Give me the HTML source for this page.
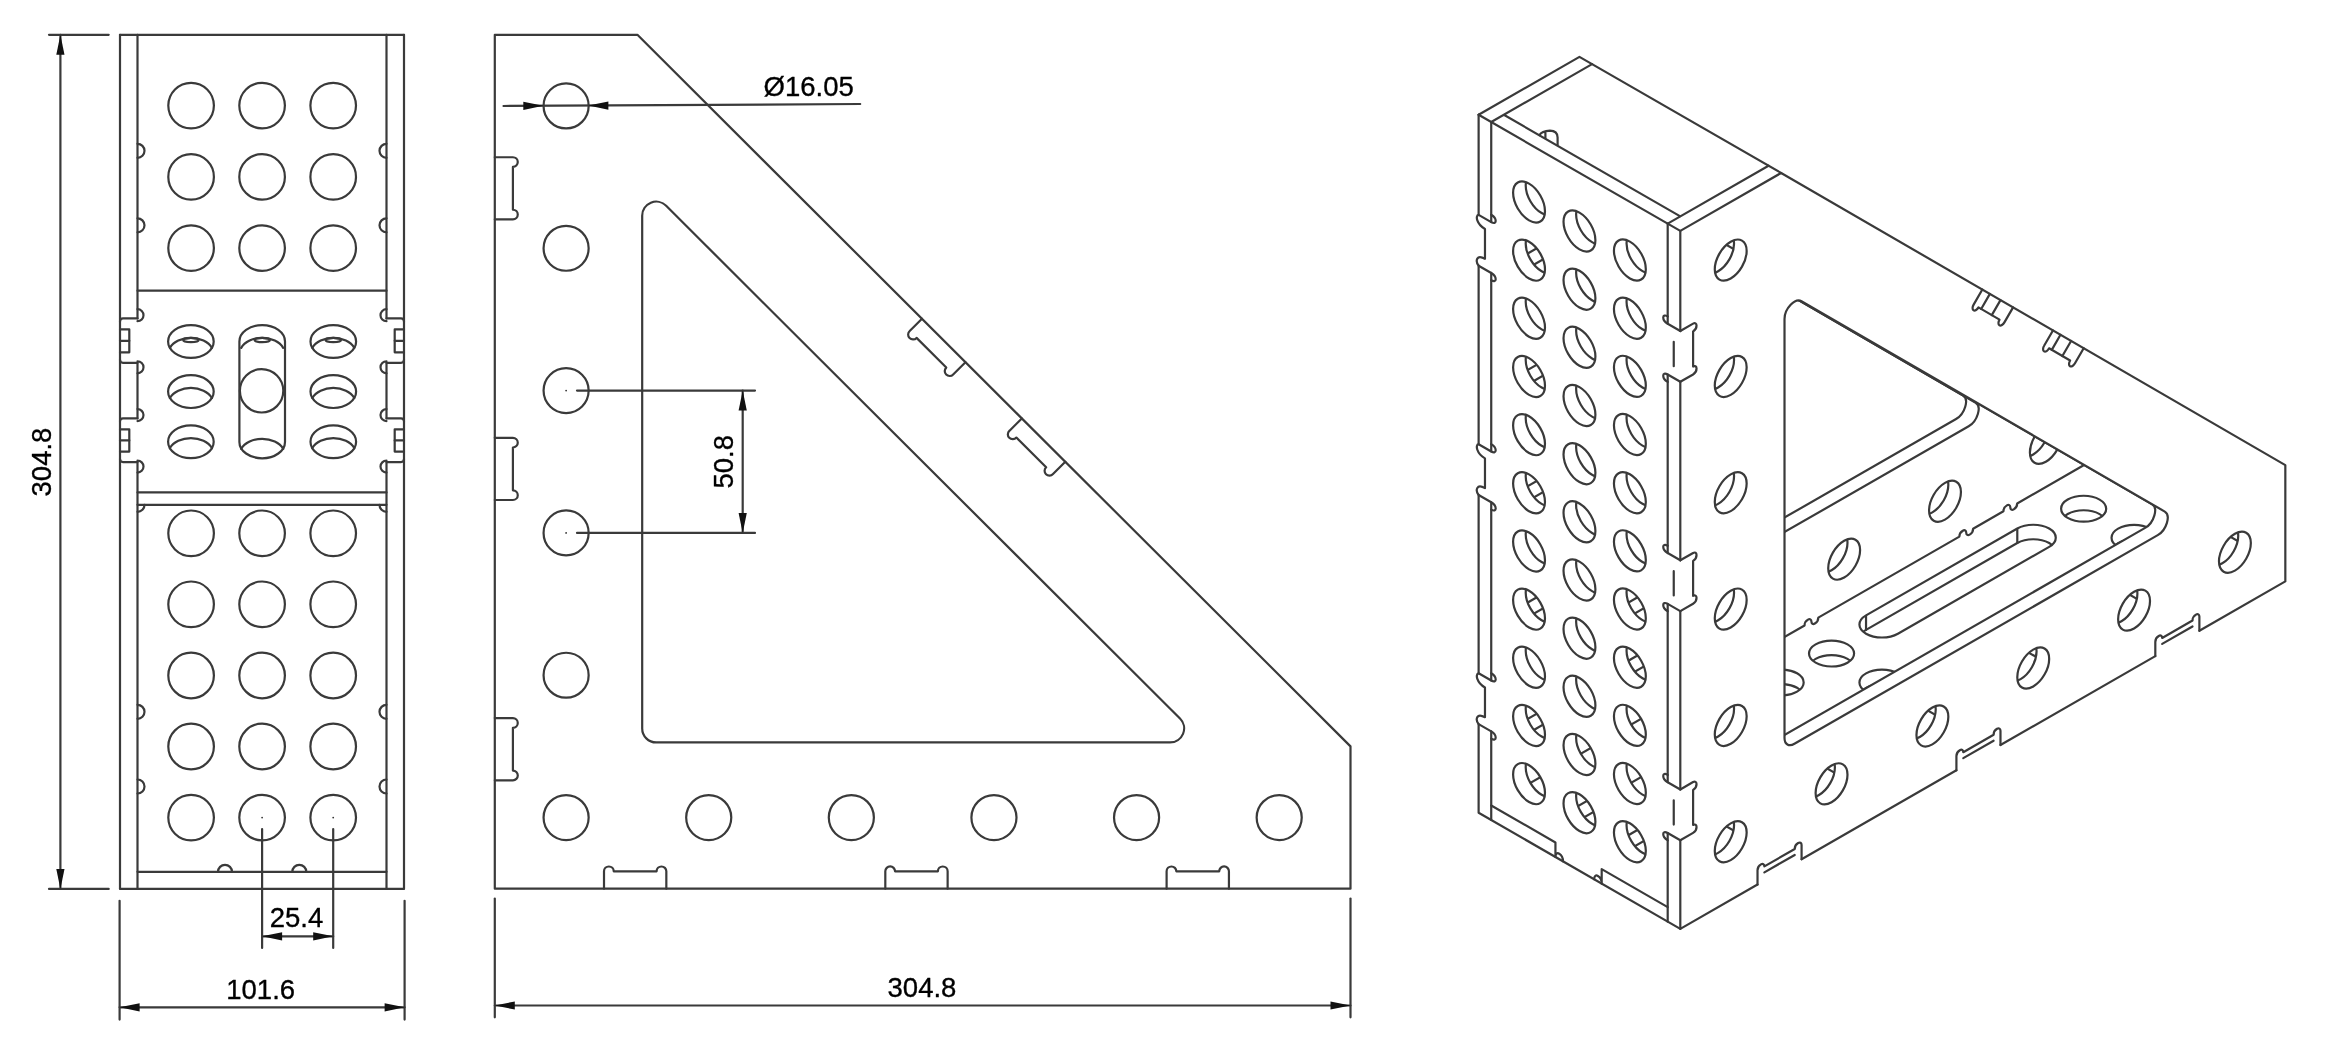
<!DOCTYPE html>
<html><head><meta charset="utf-8"><style>
html,body{margin:0;padding:0;background:#fff;width:2328px;height:1053px;overflow:hidden}
svg{display:block;will-change:transform}
svg text{font-family:"Liberation Sans",sans-serif;fill:#000;stroke:#000;stroke-width:0.35px}
.ns path,.ns circle,.ns ellipse,.ns line,.ns rect{vector-effect:non-scaling-stroke}
.ar{fill:#111;stroke:none}
.dot{fill:#333;stroke:none}
</style></head><body>
<svg width="2328" height="1053" viewBox="0 0 2328 1053"><defs><clipPath id="hc"><circle r="8.03"/></clipPath><clipPath id="hcb"><circle cx="-6.35" cy="-6.35" r="8.03"/></clipPath><clipPath id="cwin"><path transform="matrix(1.985,-1.14,0.0,2.29,1680.3,230.9)" d="M52.5 64.57 L52.5 247.6 A5 5 0 0 0 57.5 252.6 L240.53 252.6 A5 5 0 0 0 244.07 244.07 L61.04 61.04 A5 5 0 0 0 52.5 64.57 Z"/></clipPath><clipPath id="cback"><rect x="0" y="252.6" width="304.8" height="45.849999999999994"/></clipPath><clipPath id="cfloor"><rect x="0" y="52.3" width="304.8" height="42.95"/></clipPath><clipPath id="cslot"><path d="M177.8 68.17 L254 68.17 A8.03 8.03 0 0 1 254 84.23 L177.8 84.23 A8.03 8.03 0 0 1 177.8 68.17 Z"/></clipPath></defs><g><g fill="none" stroke="#3a3a3a" stroke-width="2.2" stroke-linecap="round" stroke-linejoin="round"><g id="leftview">
<line x1="120" y1="34.8" x2="404" y2="34.8"/>
<line x1="120" y1="888.8" x2="404" y2="888.8"/>
<line x1="120" y1="34.8" x2="120" y2="888.8"/>
<line x1="404" y1="34.8" x2="404" y2="888.8"/>
<line x1="137.5" y1="34.8" x2="137.5" y2="318.4"/>
<line x1="386.5" y1="34.8" x2="386.5" y2="318.4"/>
<line x1="137.5" y1="362.8" x2="137.5" y2="418.3"/>
<line x1="386.5" y1="362.8" x2="386.5" y2="418.3"/>
<line x1="137.5" y1="462.1" x2="137.5" y2="888.8"/>
<line x1="386.5" y1="462.1" x2="386.5" y2="888.8"/>
<path d="M137.5 318.4 L123 318.4 Q120 318.4 120 321.4"/>
<path d="M137.5 362.8 L123 362.8 Q120 362.8 120 359.8"/>
<path d="M120 329.4 L129.3 329.4 L129.3 352.3 L120 352.3"/>
<line x1="120" y1="340.85" x2="129.3" y2="340.85"/>
<path d="M137.5 309.2 A6 6 0 0 1 137.5 321.2"/>
<path d="M137.5 361.3 A6 6 0 0 1 137.5 373.3"/>
<path d="M386.5 318.4 L401 318.4 Q404 318.4 404 321.4"/>
<path d="M386.5 362.8 L401 362.8 Q404 362.8 404 359.8"/>
<path d="M404 329.4 L394.7 329.4 L394.7 352.3 L404 352.3"/>
<line x1="404" y1="340.85" x2="394.7" y2="340.85"/>
<path d="M386.5 309.2 A6 6 0 0 0 386.5 321.2"/>
<path d="M386.5 361.3 A6 6 0 0 0 386.5 373.3"/>
<path d="M137.5 418.3 L123 418.3 Q120 418.3 120 421.3"/>
<path d="M137.5 462.1 L123 462.1 Q120 462.1 120 459.1"/>
<path d="M120 429.3 L129.3 429.3 L129.3 451.6 L120 451.6"/>
<line x1="120" y1="440.45" x2="129.3" y2="440.45"/>
<path d="M137.5 409.1 A6 6 0 0 1 137.5 421.1"/>
<path d="M137.5 460.6 A6 6 0 0 1 137.5 472.6"/>
<path d="M386.5 418.3 L401 418.3 Q404 418.3 404 421.3"/>
<path d="M386.5 462.1 L401 462.1 Q404 462.1 404 459.1"/>
<path d="M404 429.3 L394.7 429.3 L394.7 451.6 L404 451.6"/>
<line x1="404" y1="440.45" x2="394.7" y2="440.45"/>
<path d="M386.5 409.1 A6 6 0 0 0 386.5 421.1"/>
<path d="M386.5 460.6 A6 6 0 0 0 386.5 472.6"/>
<line x1="137.5" y1="290.7" x2="386.5" y2="290.7"/>
<line x1="137.5" y1="492.4" x2="386.5" y2="492.4"/>
<line x1="137.5" y1="504.8" x2="386.5" y2="504.8"/>
<line x1="137.5" y1="871.8" x2="386.5" y2="871.8"/>
<path d="M137.5 143.8 A7 7 0 0 1 137.5 157.8"/>
<path d="M386.5 143.8 A7 7 0 0 0 386.5 157.8"/>
<path d="M137.5 218.3 A7 7 0 0 1 137.5 232.3"/>
<path d="M386.5 218.3 A7 7 0 0 0 386.5 232.3"/>
<path d="M137.5 704.8 A7 7 0 0 1 137.5 718.8"/>
<path d="M386.5 704.8 A7 7 0 0 0 386.5 718.8"/>
<path d="M137.5 779.5 A7 7 0 0 1 137.5 793.5"/>
<path d="M386.5 779.5 A7 7 0 0 0 386.5 793.5"/>
<path d="M137.5 511.8 A7 7 0 0 0 144.5 504.8"/>
<path d="M386.5 511.8 A7 7 0 0 1 379.5 504.8"/>
<path d="M218 871.8 A7 7 0 0 1 232 871.8"/>
<path d="M292.3 871.8 A7 7 0 0 1 306.3 871.8"/>
<circle cx="191.1" cy="105.6" r="22.8"/>
<circle cx="191.1" cy="176.9" r="22.8"/>
<circle cx="191.1" cy="248.1" r="22.8"/>
<circle cx="191.1" cy="533.3" r="22.8"/>
<circle cx="191.1" cy="604.3" r="22.8"/>
<circle cx="191.1" cy="675.5" r="22.8"/>
<circle cx="191.1" cy="746.5" r="22.8"/>
<circle cx="191.1" cy="817.6" r="22.8"/>
<circle cx="262.1" cy="105.6" r="22.8"/>
<circle cx="262.1" cy="176.9" r="22.8"/>
<circle cx="262.1" cy="248.1" r="22.8"/>
<circle cx="262.1" cy="533.3" r="22.8"/>
<circle cx="262.1" cy="604.3" r="22.8"/>
<circle cx="262.1" cy="675.5" r="22.8"/>
<circle cx="262.1" cy="746.5" r="22.8"/>
<circle cx="262.1" cy="817.6" r="22.8"/>
<circle cx="333.2" cy="105.6" r="22.8"/>
<circle cx="333.2" cy="176.9" r="22.8"/>
<circle cx="333.2" cy="248.1" r="22.8"/>
<circle cx="333.2" cy="533.3" r="22.8"/>
<circle cx="333.2" cy="604.3" r="22.8"/>
<circle cx="333.2" cy="675.5" r="22.8"/>
<circle cx="333.2" cy="746.5" r="22.8"/>
<circle cx="333.2" cy="817.6" r="22.8"/>
<ellipse cx="190.9" cy="341.5" rx="22.8" ry="16.4"/>
<path d="M169.9 347.85 A22.8 16.4 0 0 1 211.9 347.85"/>
<ellipse cx="190.9" cy="391.6" rx="22.8" ry="16.4"/>
<path d="M169.9 397.95 A22.8 16.4 0 0 1 211.9 397.95"/>
<ellipse cx="190.9" cy="441.7" rx="22.8" ry="16.4"/>
<path d="M169.9 448.05 A22.8 16.4 0 0 1 211.9 448.05"/>
<ellipse cx="190.9" cy="340" rx="7.7" ry="2.2"/>
<ellipse cx="333.3" cy="341.5" rx="22.8" ry="16.4"/>
<path d="M312.3 347.85 A22.8 16.4 0 0 1 354.3 347.85"/>
<ellipse cx="333.3" cy="391.6" rx="22.8" ry="16.4"/>
<path d="M312.3 397.95 A22.8 16.4 0 0 1 354.3 397.95"/>
<ellipse cx="333.3" cy="441.7" rx="22.8" ry="16.4"/>
<path d="M312.3 448.05 A22.8 16.4 0 0 1 354.3 448.05"/>
<ellipse cx="333.3" cy="340" rx="7.7" ry="2.2"/>
<path d="M239.4 341.5 A22.8 16.4 0 0 1 285 341.5 L285 441.9 A22.8 16.4 0 0 1 239.4 441.9 Z"/>
<path d="M241.2 347.85 A22.8 16.4 0 0 1 283.2 347.85"/>
<path d="M241.2 448.9 A22.8 16.4 0 0 1 283.2 448.9"/>
<ellipse cx="262.2" cy="340" rx="7.7" ry="2.2"/>
<circle cx="261.6" cy="390.8" r="21.7"/>
<circle class="dot" cx="262.1" cy="817.6" r="0.9"/><circle class="dot" cx="333.2" cy="817.6" r="0.9"/>
</g>
<line x1="49" y1="34.8" x2="108.7" y2="34.8"/>
<line x1="49" y1="888.9" x2="108.7" y2="888.9"/>
<line x1="60.4" y1="34.8" x2="60.4" y2="888.9"/>
<path class="ar" d="M60.4 34.8 L64.5 54.8 L56.3 54.8 Z"/>
<path class="ar" d="M60.4 888.9 L56.3 868.9 L64.5 868.9 Z"/>
<text x="50.8" y="462" font-size="27.5" text-anchor="middle" transform="rotate(-90 50.8 462)">304.8</text>
<line x1="119.6" y1="900.8" x2="119.6" y2="1019.6"/>
<line x1="404.6" y1="900.8" x2="404.6" y2="1019.6"/>
<line x1="119.6" y1="1007.3" x2="404.6" y2="1007.3"/>
<path class="ar" d="M119.6 1007.3 L139.6 1003.2 L139.6 1011.4 Z"/>
<path class="ar" d="M404.6 1007.3 L384.6 1011.4 L384.6 1003.2 Z"/>
<text x="260.7" y="999.1" font-size="27.5" text-anchor="middle">101.6</text>
<line x1="262.1" y1="829" x2="262.1" y2="948"/>
<line x1="333.2" y1="829" x2="333.2" y2="948"/>
<line x1="262.1" y1="936.3" x2="333.2" y2="936.3"/>
<path class="ar" d="M262.1 936.3 L282.1 932.2 L282.1 940.4 Z"/>
<path class="ar" d="M333.2 936.3 L313.2 940.4 L313.2 932.2 Z"/>
<text x="296.5" y="926.8" font-size="27.5" text-anchor="middle">25.4</text>
<g transform="matrix(2.8074,0,0,2.8015,494.8,34.8)" class="ns">
<path d="M0 0 L50.8 0 L304.8 254 L304.8 304.8 L0 304.8 Z"/>
<path d="M52.5 64.57 L52.5 247.6 A5 5 0 0 0 57.5 252.6 L240.53 252.6 A5 5 0 0 0 244.07 244.07 L61.04 61.04 A5 5 0 0 0 52.5 64.57 Z"/>
<path d="M0 43.7 L6.45 43.7 A1.73 1.73 0 1 1 6.45 47.16 L6.45 62.44 A1.73 1.73 0 1 1 6.45 65.9 L0 65.9"/>
<path d="M0 143.85 L6.45 143.85 A1.73 1.73 0 1 1 6.45 147.31 L6.45 162.59 A1.73 1.73 0 1 1 6.45 166.05 L0 166.05"/>
<path d="M0 243.9 L6.45 243.9 A1.73 1.73 0 1 1 6.45 247.36 L6.45 262.64 A1.73 1.73 0 1 1 6.45 266.1 L0 266.1"/>
<path d="M38.9 304.8 L38.9 298.6 A1.73 1.73 0 1 1 42.36 298.6 L57.64 298.6 A1.73 1.73 0 1 1 61.1 298.6 L61.1 304.8"/>
<path d="M139.1 304.8 L139.1 298.6 A1.73 1.73 0 1 1 142.56 298.6 L157.84 298.6 A1.73 1.73 0 1 1 161.3 298.6 L161.3 304.8"/>
<path d="M239.3 304.8 L239.3 298.6 A1.73 1.73 0 1 1 242.76 298.6 L258.04 298.6 A1.73 1.73 0 1 1 261.5 298.6 L261.5 304.8"/>
<path d="M152.16 101.36 L147.78 105.75 A1.73 1.73 0 1 0 150.23 108.19 L160.82 118.79 A1.73 1.73 0 1 0 163.27 121.23 L167.65 116.85"/>
<path d="M187.73 136.93 L183.35 141.32 A1.73 1.73 0 1 0 185.79 143.76 L196.39 154.35 A1.73 1.73 0 1 0 198.83 156.8 L203.22 152.42"/>
<circle cx="25.4" cy="25.4" r="8.03"/>
<circle cx="25.4" cy="76.2" r="8.03"/>
<circle cx="25.4" cy="127" r="8.03"/>
<circle cx="25.4" cy="177.8" r="8.03"/>
<circle cx="25.4" cy="228.6" r="8.03"/>
<circle cx="25.4" cy="279.4" r="8.03"/>
<circle cx="76.2" cy="279.4" r="8.03"/>
<circle cx="127" cy="279.4" r="8.03"/>
<circle cx="177.8" cy="279.4" r="8.03"/>
<circle cx="228.6" cy="279.4" r="8.03"/>
<circle cx="279.4" cy="279.4" r="8.03"/>
</g>
<circle class="dot" cx="566.11" cy="390.59" r="0.9"/>
<circle class="dot" cx="566.11" cy="532.91" r="0.9"/>
<line x1="503.5" y1="106" x2="860.2" y2="104"/>
<path class="ar" d="M543.3 105.8 L523.3 109.9 L523.3 101.7 Z"/>
<path class="ar" d="M588.4 105.6 L608.4 101.5 L608.4 109.7 Z"/>
<text x="853.8" y="95.5" font-size="27.5" text-anchor="end">&#216;16.05</text>
<line x1="577" y1="390.59" x2="755" y2="390.59"/>
<line x1="577" y1="532.91" x2="755" y2="532.91"/>
<line x1="742.7" y1="390.59" x2="742.7" y2="532.91"/>
<path class="ar" d="M742.7 390.59 L746.8 410.59 L738.6 410.59 Z"/>
<path class="ar" d="M742.7 532.91 L738.6 512.91 L746.8 512.91 Z"/>
<text x="733.1" y="461.75" font-size="27.5" text-anchor="middle" transform="rotate(-90 733.1 461.75)">50.8</text>
<line x1="494.8" y1="898.5" x2="494.8" y2="1017.3"/>
<line x1="1350.5" y1="898.5" x2="1350.5" y2="1017.3"/>
<line x1="494.8" y1="1005.5" x2="1350.5" y2="1005.5"/>
<path class="ar" d="M494.8 1005.5 L514.8 1001.4 L514.8 1009.6 Z"/>
<path class="ar" d="M1350.5 1005.5 L1330.5 1009.6 L1330.5 1001.4 Z"/>
<text x="922" y="997.2" font-size="27.5" text-anchor="middle">304.8</text>
<g id="iso">
<g transform="matrix(1.985,-1.14,0.0,2.29,1680.3,230.9)" class="ns">
<path d="M0 43.7 L0 0 L50.8 0 L304.8 254 L304.8 304.8 L261.5 304.8 M239.3 304.8 L161.3 304.8 M139.1 304.8 L61.1 304.8 M38.9 304.8 L0 304.8 L0 266.1 M0 243.9 L0 166.05 M0 143.85 L0 65.9"/>
<path d="M42.36 301.2 L57.64 301.2"/>
<path d="M142.56 301.2 L157.84 301.2"/>
<path d="M242.76 301.2 L258.04 301.2"/>
<path d="M52.5 64.57 L52.5 247.6 A5 5 0 0 0 57.5 252.6 L240.53 252.6 A5 5 0 0 0 244.07 244.07 L61.04 61.04 A5 5 0 0 0 52.5 64.57 Z"/>
<path d="M0 43.7 L6.45 43.7 A1.73 1.73 0 1 1 6.45 47.16 L6.45 62.44 A1.73 1.73 0 1 1 6.45 65.9 L0 65.9"/>
<path d="M0 143.85 L6.45 143.85 A1.73 1.73 0 1 1 6.45 147.31 L6.45 162.59 A1.73 1.73 0 1 1 6.45 166.05 L0 166.05"/>
<path d="M0 243.9 L6.45 243.9 A1.73 1.73 0 1 1 6.45 247.36 L6.45 262.64 A1.73 1.73 0 1 1 6.45 266.1 L0 266.1"/>
<path d="M38.9 304.8 L38.9 298.6 A1.73 1.73 0 1 1 42.36 298.6 L57.64 298.6 A1.73 1.73 0 1 1 61.1 298.6 L61.1 304.8"/>
<path d="M139.1 304.8 L139.1 298.6 A1.73 1.73 0 1 1 142.56 298.6 L157.84 298.6 A1.73 1.73 0 1 1 161.3 298.6 L161.3 304.8"/>
<path d="M239.3 304.8 L239.3 298.6 A1.73 1.73 0 1 1 242.76 298.6 L258.04 298.6 A1.73 1.73 0 1 1 261.5 298.6 L261.5 304.8"/>
<path d="M152.16 101.36 L147.78 105.75 A1.73 1.73 0 1 0 150.23 108.19 L160.82 118.79 A1.73 1.73 0 1 0 163.27 121.23 L167.65 116.85"/>
<path d="M187.73 136.93 L183.35 141.32 A1.73 1.73 0 1 0 185.79 143.76 L196.39 154.35 A1.73 1.73 0 1 0 198.83 156.8 L203.22 152.42"/>
<g transform="translate(25.4 25.4)"><circle r="8.03"/><circle cx="-6.35" cy="-6.35" r="8.03" clip-path="url(#hc)"/><g clip-path="url(#hc)"><g clip-path="url(#hcb)"><path d="M-10.2 -15.8 L15.8 10.2"/></g></g></g>
<g transform="translate(25.4 76.2)"><circle r="8.03"/><circle cx="-6.35" cy="-6.35" r="8.03" clip-path="url(#hc)"/></g>
<g transform="translate(25.4 127)"><circle r="8.03"/><circle cx="-6.35" cy="-6.35" r="8.03" clip-path="url(#hc)"/></g>
<g transform="translate(25.4 177.8)"><circle r="8.03"/><circle cx="-6.35" cy="-6.35" r="8.03" clip-path="url(#hc)"/></g>
<g transform="translate(25.4 228.6)"><circle r="8.03"/><circle cx="-6.35" cy="-6.35" r="8.03" clip-path="url(#hc)"/></g>
<g transform="translate(25.4 279.4)"><circle r="8.03"/><circle cx="-6.35" cy="-6.35" r="8.03" clip-path="url(#hc)"/><g clip-path="url(#hc)"><g clip-path="url(#hcb)"><path d="M-10.2 -15.8 L15.8 10.2"/></g></g></g>
<g transform="translate(76.2 279.4)"><circle r="8.03"/><circle cx="-6.35" cy="-6.35" r="8.03" clip-path="url(#hc)"/><g clip-path="url(#hc)"><g clip-path="url(#hcb)"><path d="M-10.2 -15.8 L15.8 10.2"/></g></g></g>
<g transform="translate(127 279.4)"><circle r="8.03"/><circle cx="-6.35" cy="-6.35" r="8.03" clip-path="url(#hc)"/><g clip-path="url(#hc)"><g clip-path="url(#hcb)"><path d="M-10.2 -15.8 L15.8 10.2"/></g></g></g>
<g transform="translate(177.8 279.4)"><circle r="8.03"/><circle cx="-6.35" cy="-6.35" r="8.03" clip-path="url(#hc)"/><g clip-path="url(#hc)"><g clip-path="url(#hcb)"><path d="M-10.2 -15.8 L15.8 10.2"/></g></g></g>
<g transform="translate(228.6 279.4)"><circle r="8.03"/><circle cx="-6.35" cy="-6.35" r="8.03" clip-path="url(#hc)"/><g clip-path="url(#hc)"><g clip-path="url(#hcb)"><path d="M-10.2 -15.8 L15.8 10.2"/></g></g></g>
<g transform="translate(279.4 279.4)"><circle r="8.03"/><circle cx="-6.35" cy="-6.35" r="8.03" clip-path="url(#hc)"/><g clip-path="url(#hc)"><g clip-path="url(#hcb)"><path d="M-10.2 -15.8 L15.8 10.2"/></g></g></g>
</g>
<g transform="matrix(1.985,-1.14,0.0,2.29,1667.7,223.64)" class="ns"><path d="M167.65 116.85 L163.27 121.23"/></g>
<g transform="matrix(1.985,-1.14,0.0,2.29,1687.84,235.24)" class="ns"><path d="M152.16 101.36 L147.78 105.75"/></g>
<g transform="matrix(1.985,-1.14,0.0,2.29,1667.7,223.64)" class="ns"><path d="M203.22 152.42 L198.83 156.8"/></g>
<g transform="matrix(1.985,-1.14,0.0,2.29,1687.84,235.24)" class="ns"><path d="M187.73 136.93 L183.35 141.32"/></g>
<g transform="matrix(-1.985,-1.143,0.0,2.29,1680.3,230.9)" class="ns">
<path d="M101.6 0 L101.6 43.7 C103.4 44.9 102.6 48.3 98.4 48.3 L98.4 61.3 C102.6 61.3 103.4 64.7 101.6 65.9 L101.6 143.85 C103.4 145.05 102.6 148.45 98.4 148.45 L98.4 161.45 C102.6 161.45 103.4 164.85 101.6 166.05 L101.6 243.9 C103.4 245.1 102.6 248.5 98.4 248.5 L98.4 261.5 C102.6 261.5 103.4 264.9 101.6 266.1 L101.6 304.8 L0 304.8"/>
<path d=" M6.35 0 L6.35 43.7 M6.35 65.9 L6.35 143.85 M6.35 166.05 L6.35 243.9 M6.35 266.1 L6.35 304.8 M95.25 0 L95.25 43.7 M95.25 65.9 L95.25 143.85 M95.25 166.05 L95.25 243.9 M95.25 266.1 L95.25 304.8"/>
<path d=" M6.35 43.7 L0 43.7 M6.35 65.9 L0 65.9 M95.25 43.7 L101.6 43.7 M95.25 65.9 L101.6 65.9 M6.35 40.5 C9.35 40.5 9.35 43.7 6.35 43.7 M6.35 65.9 C9.35 65.9 9.35 69.1 6.35 69.1 M95.25 40.5 C92.25 40.5 92.25 43.7 95.25 43.7 M95.25 65.9 C92.25 65.9 92.25 69.1 95.25 69.1 M3.3 50.1 L3.3 60.7 M6.35 143.85 L0 143.85 M6.35 166.05 L0 166.05 M95.25 143.85 L101.6 143.85 M95.25 166.05 L101.6 166.05 M6.35 140.65 C9.35 140.65 9.35 143.85 6.35 143.85 M6.35 166.05 C9.35 166.05 9.35 169.25 6.35 169.25 M95.25 140.65 C92.25 140.65 92.25 143.85 95.25 143.85 M95.25 166.05 C92.25 166.05 92.25 169.25 95.25 169.25 M3.3 150.25 L3.3 160.85 M6.35 243.9 L0 243.9 M6.35 266.1 L0 266.1 M95.25 243.9 L101.6 243.9 M95.25 266.1 L101.6 266.1 M6.35 240.7 C9.35 240.7 9.35 243.9 6.35 243.9 M6.35 266.1 C9.35 266.1 9.35 269.3 6.35 269.3 M95.25 240.7 C92.25 240.7 92.25 243.9 95.25 243.9 M95.25 266.1 C92.25 266.1 92.25 269.3 95.25 269.3 M3.3 250.3 L3.3 260.9"/>
<path d="M6.35 298.45 L39.6 298.45 L39.6 304.8 M62.9 304.8 L62.9 298.45 L95.25 298.45 M39.6 304.8 C39.6 301.6 43.4 301.6 43.4 304.8 M59.1 304.8 C59.1 301.6 62.9 301.6 62.9 304.8"/>
<g transform="translate(25.4 25.4)"><circle r="8.03"/><circle cx="-6.35" cy="-6.35" r="8.03" clip-path="url(#hc)"/></g>
<g transform="translate(25.4 50.8)"><circle r="8.03"/><circle cx="-6.35" cy="-6.35" r="8.03" clip-path="url(#hc)"/></g>
<g transform="translate(25.4 76.2)"><circle r="8.03"/><circle cx="-6.35" cy="-6.35" r="8.03" clip-path="url(#hc)"/></g>
<g transform="translate(25.4 101.6)"><circle r="8.03"/><circle cx="-6.35" cy="-6.35" r="8.03" clip-path="url(#hc)"/></g>
<g transform="translate(25.4 127)"><circle r="8.03"/><circle cx="-6.35" cy="-6.35" r="8.03" clip-path="url(#hc)"/></g>
<g transform="translate(25.4 152.4)"><circle r="8.03"/><circle cx="-6.35" cy="-6.35" r="8.03" clip-path="url(#hc)"/></g>
<g transform="translate(25.4 177.8)"><circle r="8.03"/><circle cx="-6.35" cy="-6.35" r="8.03" clip-path="url(#hc)"/><g clip-path="url(#hc)"><g clip-path="url(#hcb)"><path d="M-10.8 -14 L14 10.8 M-14 -10.8 L10.8 14"/></g></g></g>
<g transform="translate(25.4 203.2)"><circle r="8.03"/><circle cx="-6.35" cy="-6.35" r="8.03" clip-path="url(#hc)"/><g clip-path="url(#hc)"><g clip-path="url(#hcb)"><path d="M-10.8 -14 L14 10.8 M-14 -10.8 L10.8 14"/></g></g></g>
<g transform="translate(25.4 228.6)"><circle r="8.03"/><circle cx="-6.35" cy="-6.35" r="8.03" clip-path="url(#hc)"/><g clip-path="url(#hc)"><g clip-path="url(#hcb)"><path d="M-14 -14 L14 14"/></g></g></g>
<g transform="translate(25.4 254)"><circle r="8.03"/><circle cx="-6.35" cy="-6.35" r="8.03" clip-path="url(#hc)"/><g clip-path="url(#hc)"><g clip-path="url(#hcb)"><path d="M-14 -14 L14 14"/></g></g></g>
<g transform="translate(25.4 279.4)"><circle r="8.03"/><circle cx="-6.35" cy="-6.35" r="8.03" clip-path="url(#hc)"/><g clip-path="url(#hc)"><g clip-path="url(#hcb)"><path d="M-10.8 -14 L14 10.8 M-14 -10.8 L10.8 14"/></g></g></g>
<g transform="translate(50.8 25.4)"><circle r="8.03"/><circle cx="-6.35" cy="-6.35" r="8.03" clip-path="url(#hc)"/></g>
<g transform="translate(50.8 50.8)"><circle r="8.03"/><circle cx="-6.35" cy="-6.35" r="8.03" clip-path="url(#hc)"/></g>
<g transform="translate(50.8 76.2)"><circle r="8.03"/><circle cx="-6.35" cy="-6.35" r="8.03" clip-path="url(#hc)"/></g>
<g transform="translate(50.8 101.6)"><circle r="8.03"/><circle cx="-6.35" cy="-6.35" r="8.03" clip-path="url(#hc)"/></g>
<g transform="translate(50.8 127)"><circle r="8.03"/><circle cx="-6.35" cy="-6.35" r="8.03" clip-path="url(#hc)"/></g>
<g transform="translate(50.8 152.4)"><circle r="8.03"/><circle cx="-6.35" cy="-6.35" r="8.03" clip-path="url(#hc)"/></g>
<g transform="translate(50.8 177.8)"><circle r="8.03"/><circle cx="-6.35" cy="-6.35" r="8.03" clip-path="url(#hc)"/></g>
<g transform="translate(50.8 203.2)"><circle r="8.03"/><circle cx="-6.35" cy="-6.35" r="8.03" clip-path="url(#hc)"/></g>
<g transform="translate(50.8 228.6)"><circle r="8.03"/><circle cx="-6.35" cy="-6.35" r="8.03" clip-path="url(#hc)"/></g>
<g transform="translate(50.8 254)"><circle r="8.03"/><circle cx="-6.35" cy="-6.35" r="8.03" clip-path="url(#hc)"/><g clip-path="url(#hc)"><g clip-path="url(#hcb)"><path d="M-14 -14 L14 14"/></g></g></g>
<g transform="translate(50.8 279.4)"><circle r="8.03"/><circle cx="-6.35" cy="-6.35" r="8.03" clip-path="url(#hc)"/><g clip-path="url(#hc)"><g clip-path="url(#hcb)"><path d="M-10.8 -14 L14 10.8 M-14 -10.8 L10.8 14"/></g></g></g>
<g transform="translate(76.2 25.4)"><circle r="8.03"/><circle cx="-6.35" cy="-6.35" r="8.03" clip-path="url(#hc)"/></g>
<g transform="translate(76.2 50.8)"><circle r="8.03"/><circle cx="-6.35" cy="-6.35" r="8.03" clip-path="url(#hc)"/><g clip-path="url(#hc)"><g clip-path="url(#hcb)"><path d="M-10.8 -14 L14 10.8 M-14 -10.8 L10.8 14"/></g></g></g>
<g transform="translate(76.2 76.2)"><circle r="8.03"/><circle cx="-6.35" cy="-6.35" r="8.03" clip-path="url(#hc)"/></g>
<g transform="translate(76.2 101.6)"><circle r="8.03"/><circle cx="-6.35" cy="-6.35" r="8.03" clip-path="url(#hc)"/><g clip-path="url(#hc)"><g clip-path="url(#hcb)"><path d="M-10.8 -14 L14 10.8 M-14 -10.8 L10.8 14"/></g></g></g>
<g transform="translate(76.2 127)"><circle r="8.03"/><circle cx="-6.35" cy="-6.35" r="8.03" clip-path="url(#hc)"/></g>
<g transform="translate(76.2 152.4)"><circle r="8.03"/><circle cx="-6.35" cy="-6.35" r="8.03" clip-path="url(#hc)"/><g clip-path="url(#hc)"><g clip-path="url(#hcb)"><path d="M-10.8 -14 L14 10.8 M-14 -10.8 L10.8 14"/></g></g></g>
<g transform="translate(76.2 177.8)"><circle r="8.03"/><circle cx="-6.35" cy="-6.35" r="8.03" clip-path="url(#hc)"/></g>
<g transform="translate(76.2 203.2)"><circle r="8.03"/><circle cx="-6.35" cy="-6.35" r="8.03" clip-path="url(#hc)"/><g clip-path="url(#hc)"><g clip-path="url(#hcb)"><path d="M-10.8 -14 L14 10.8 M-14 -10.8 L10.8 14"/></g></g></g>
<g transform="translate(76.2 228.6)"><circle r="8.03"/><circle cx="-6.35" cy="-6.35" r="8.03" clip-path="url(#hc)"/></g>
<g transform="translate(76.2 254)"><circle r="8.03"/><circle cx="-6.35" cy="-6.35" r="8.03" clip-path="url(#hc)"/><g clip-path="url(#hc)"><g clip-path="url(#hcb)"><path d="M-10.8 -14 L14 10.8 M-14 -10.8 L10.8 14"/></g></g></g>
<g transform="translate(76.2 279.4)"><circle r="8.03"/><circle cx="-6.35" cy="-6.35" r="8.03" clip-path="url(#hc)"/><g clip-path="url(#hc)"><g clip-path="url(#hcb)"><path d="M-14 -14 L14 14"/></g></g></g>
</g>
<path d="M1680.3 230.9 L1478.62 114.77"/>
<path d="M1539.4 135.1 C1541 132.5 1544 131 1549.9 130.7 C1555 130.8 1557.5 133 1557.6 137.5 L1557.6 145.1 M1545.4 131.4 L1545.4 138.2"/>
<g transform="matrix(1.985,-1.14,-1.985,-1.143,1680.3,230.9)" class="ns">
<path d="M0 101.6 L50.8 101.6 L50.8 0"/>
<path d="M0 6.35 L50.8 6.35 M0 95.25 L50.8 95.25 M6.35 6.35 L6.35 95.25"/>
</g>
<g clip-path="url(#cwin)">
<g transform="matrix(1.985,-1.14,0.0,2.29,1667.7,223.64)" class="ns"><path d="M52.5 64.57 L52.5 247.6 A5 5 0 0 0 57.5 252.6 L240.53 252.6 A5 5 0 0 0 244.07 244.07 L61.04 61.04 A5 5 0 0 0 52.5 64.57 Z"/></g>
<g transform="matrix(1.985,-1.14,0.0,2.29,1491.23,122.03)" class="ns"><path d="M52.5 64.57 L52.5 247.6 A5 5 0 0 0 57.5 252.6 L240.53 252.6 A5 5 0 0 0 244.07 244.07 L61.04 61.04 A5 5 0 0 0 52.5 64.57 Z"/></g>
<g transform="matrix(1.985,-1.14,0.0,2.29,1478.62,114.77)" class="ns"><path d="M52.5 64.57 L52.5 247.6 A5 5 0 0 0 57.5 252.6 L240.53 252.6 A5 5 0 0 0 244.07 244.07 L61.04 61.04 A5 5 0 0 0 52.5 64.57 Z"/></g>
<g transform="matrix(1.985,-1.14,0.0,2.29,1491.23,122.03)" class="ns">
<g clip-path="url(#cback)">
<g transform="translate(127 279.4)"><circle r="8.03"/><circle cx="-6.35" cy="-6.35" r="8.03" clip-path="url(#hc)"/></g>
<g transform="translate(177.8 279.4)"><circle r="8.03"/><circle cx="-6.35" cy="-6.35" r="8.03" clip-path="url(#hc)"/></g>
<g transform="translate(228.6 279.4)"><circle r="8.03"/><circle cx="-6.35" cy="-6.35" r="8.03" clip-path="url(#hc)"/></g>
<g transform="translate(279.4 279.4)"><circle r="8.03"/><circle cx="-6.35" cy="-6.35" r="8.03" clip-path="url(#hc)"/></g>
</g>
<path d="M40 298.45 L157.84 298.45 A1.73 1.73 0 0 1 161.3 298.45 A1.73 1.73 0 0 0 164.76 298.45 L235.84 298.45 A1.73 1.73 0 0 1 239.3 298.45 A1.73 1.73 0 0 0 242.76 298.45 L258.04 298.45 A1.73 1.73 0 0 1 261.5 298.45 A1.73 1.73 0 0 0 264.96 298.45 L298.45 298.45"/>
</g>
<g transform="matrix(1.985,-1.14,-1.985,-1.143,1680.3,914.35)" class="ns"><g clip-path="url(#cfloor)">
<g transform="translate(127 76.2)"><circle r="8.03"/><circle cx="-6.35" cy="-6.35" r="8.03" clip-path="url(#hc)"/></g>
<g transform="translate(152.4 76.2)"><circle r="8.03"/><circle cx="-6.35" cy="-6.35" r="8.03" clip-path="url(#hc)"/></g>
<g transform="translate(279.4 76.2)"><circle r="8.03"/><circle cx="-6.35" cy="-6.35" r="8.03" clip-path="url(#hc)"/></g>
<g transform="translate(152.4 50.8)"><circle r="8.03"/><circle cx="-6.35" cy="-6.35" r="8.03" clip-path="url(#hc)"/></g>
<g transform="translate(279.4 50.8)"><circle r="8.03"/><circle cx="-6.35" cy="-6.35" r="8.03" clip-path="url(#hc)"/></g>
<path d="M177.8 68.17 L254 68.17 A8.03 8.03 0 0 1 254 84.23 L177.8 84.23 A8.03 8.03 0 0 1 177.8 68.17 Z"/>
<g clip-path="url(#cslot)"><path d="M177.8 84.23 L171.45000000000002 77.88000000000001 M254 84.23 L247.65 77.88000000000001"/></g>
<g clip-path="url(#cslot)"><path transform="translate(-6.35 -6.35)" d="M177.8 68.17 L254 68.17 A8.03 8.03 0 0 1 254 84.23 L177.8 84.23 A8.03 8.03 0 0 1 177.8 68.17 Z"/></g>
</g></g>
</g>
</g></g></g></svg>
</body></html>
